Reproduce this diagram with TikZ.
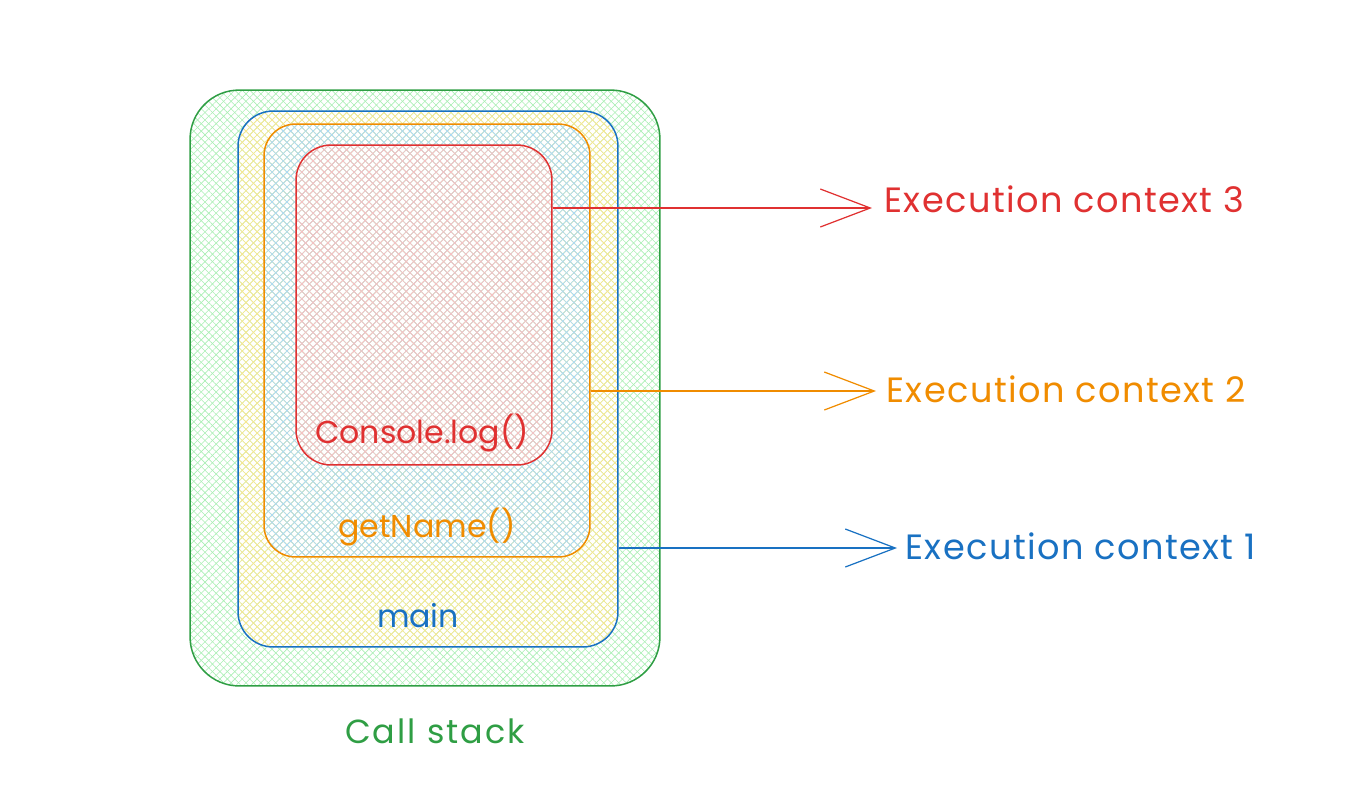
\documentclass[tikz,border=0pt]{standalone}
\usepackage{fontspec}
\setmainfont{Poppins}
\newfontfamily\widehand[LetterSpace=4.1]{Poppins}
\newfontfamily\stackhand[LetterSpace=6.2]{Poppins}
\usepackage{tikz}
\usetikzlibrary{arrows.meta, positioning, calc, patterns.meta}
\definecolor{ecred}{RGB}{224,49,49}
\definecolor{ecorange}{RGB}{240,140,0}
\definecolor{ecblue}{RGB}{25,113,194}
\definecolor{ecgreen}{RGB}{47,158,68}
\definecolor{hatchred}{RGB}{255,190,190}
\definecolor{hatchyellow}{RGB}{255,230,140}
\definecolor{hatchblue}{RGB}{165,216,255}
\definecolor{hatchgreen}{RGB}{170,238,180}
\tikzset{
  hatch/.style={
    preaction={pattern={Lines[angle=45,distance=3pt,line width=0.35pt]}, pattern color=#1},
    preaction={pattern={Lines[angle=-45,distance=3pt,line width=0.35pt]}, pattern color=#1}},
  ctxbox/.style={rectangle, draw=#1, line width=0.85pt, inner sep=0pt},
  ctxlabel/.style={font=\fontsize{18}{20}\selectfont, text=#1, inner sep=0pt},
  sidelabel/.style={font=\widehand\fontsize{20}{22}\selectfont, text=#1, inner sep=0pt, anchor=base west},
  ctxarrow/.style={-{Straight Barb[length=1cm,width=0.76cm]}, line width=0.7pt, color=#1}
}

\begin{document}
\begin{tikzpicture}[x=0.02cm, y=-0.02cm]
  \useasboundingbox (0,0) rectangle (1358,802);
  % nested frames, outermost first
  \node[ctxbox=ecgreen, hatch=hatchgreen, minimum width=9.4cm, minimum height=11.92cm, rounded corners=28pt] (stack) at (425,388) {};
  \node[ctxbox=ecblue, hatch=hatchyellow, minimum width=7.6cm, minimum height=10.72cm, rounded corners=20pt] (ctxmain) at (428,379) {};
  \node[ctxbox=ecorange, hatch=hatchblue, minimum width=6.52cm, minimum height=8.66cm, rounded corners=18pt] (ctxget) at (427,340.5) {};
  \node[ctxbox=ecred, hatch=hatchred, minimum width=5.12cm, minimum height=6.4cm, rounded corners=20pt] (ctxlog) at (424,305) {};
  % frame names
  \node[ctxlabel=ecred, anchor=base] (logname) at (422,443) {Console.log()};
  \node[ctxlabel=ecorange, anchor=base] (getname) at (427,537) {getName()};
  \node[ctxlabel=ecblue, anchor=base] (mainname) at (418,627) {main};
  \node[ctxlabel=ecgreen, anchor=base, font=\stackhand\fontsize{19}{21}\selectfont] (stackname) at (435,743) {Call stack};
  % arrow tips and context labels
  \coordinate (tip3) at (872,208);
  \coordinate (tip2) at (876,391);
  \coordinate (tip1) at (897,548);
  \node[sidelabel=ecred] (ctx3) at (884,212) {Execution context 3};
  \node[sidelabel=ecorange] (ctx2) at (886,402) {Execution context 2};
  \node[sidelabel=ecblue] (ctx1) at (905,559) {Execution context 1};
  \draw[ctxarrow=ecred] (ctxlog.east |- tip3) -- (tip3);
  \draw[ctxarrow=ecorange] (ctxget.east |- tip2) -- (tip2);
  \draw[ctxarrow=ecblue] (ctxmain.east |- tip1) -- (tip1);
\end{tikzpicture}
\end{document}
